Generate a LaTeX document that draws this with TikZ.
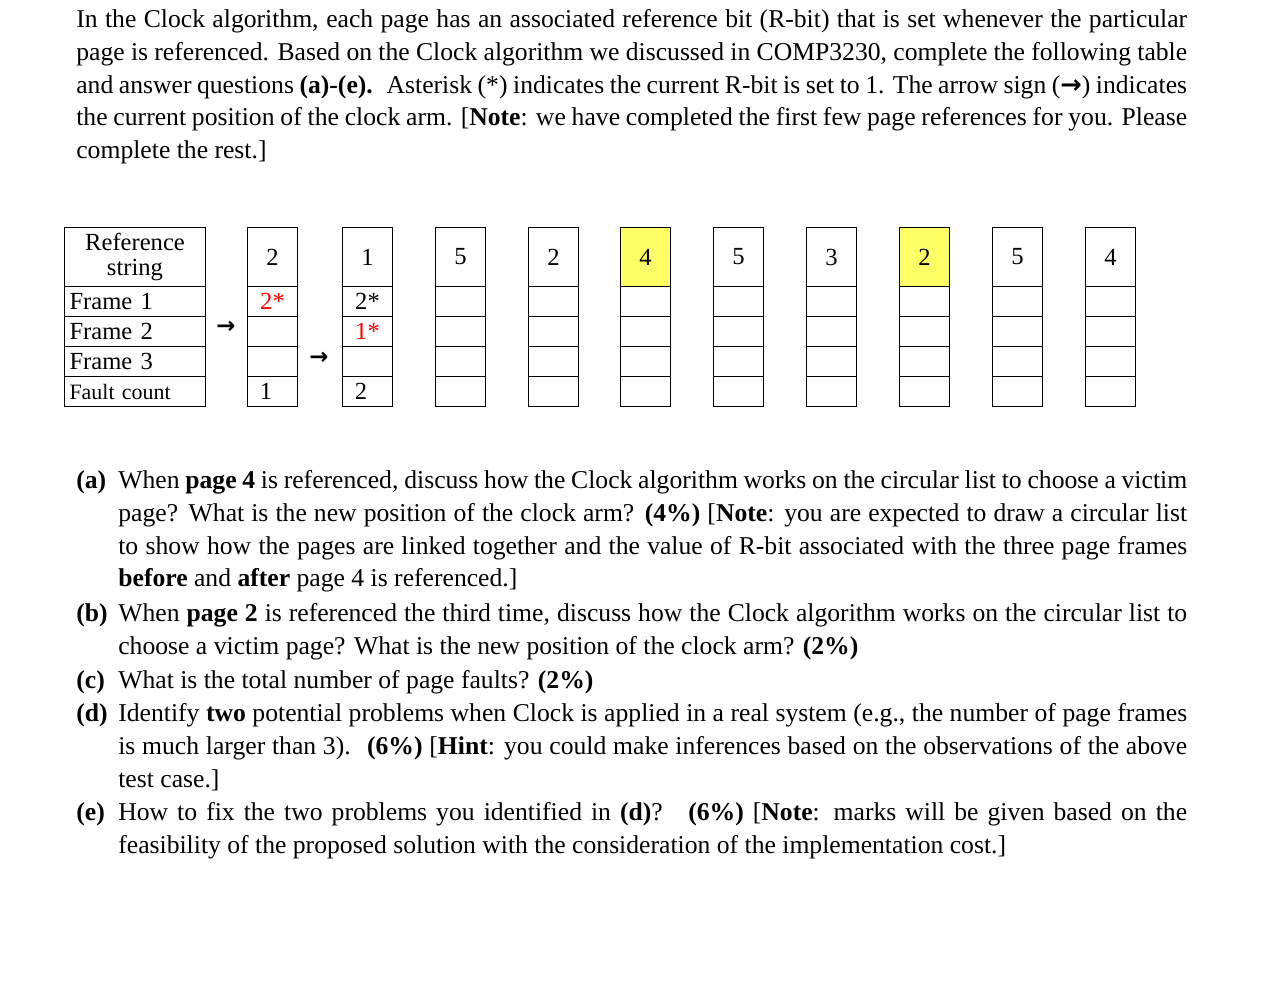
\documentclass[tikz,border=0pt]{standalone}
\usepackage{fontspec}
\setmainfont{Liberation Serif}
\newfontfamily\arr{DejaVu Sans}
\definecolor{yel}{HTML}{FFFF66}
\begin{document}
\begin{tikzpicture}[x=0.02cm,y=-0.02cm,
  body/.style={inner sep=0pt,font=\fontsize{14.6pt}{18.7pt}\selectfont,align=justify},
  tf/.style={font=\fontsize{14pt}{15pt}\selectfont},
  tcell/.style={draw,semithick,inner sep=0pt,anchor=north west,tf},
  red/.style={text=red}]
\useasboundingbox (0,0) rectangle (1276,1008);
\node[body,anchor=north west,text width=22.22cm] (intro) at (76,9) {In the Clock algorithm, each page has an associated reference bit (R-bit) that is set whenever the particular page is referenced. Based on the Clock algorithm we discussed in COMP3230, complete the following table and answer questions \textbf{(a)-(e).} \ Asterisk (*) indicates the current R-bit is set to 1. The arrow sign ({\arr\bfseries →}) indicates the current position of the clock arm. [\textbf{Note}: we have completed the first few page references for you. Please complete the rest.]};
% label column
\node[tcell,minimum width=2.82cm,minimum height=1.18cm,align=center] (h0) at (64,227) {Reference\\[-1pt]string};
\foreach \t/\y/\n in {Frame 1/286/f1,Frame 2/316/f2,Frame 3/346/f3}
  \node[tcell,minimum width=2.82cm,minimum height=0.6cm,align=left,text width=2.62cm,inner xsep=0.1cm] (\n) at (64,\y) {\t};
\node[tcell,minimum width=2.82cm,minimum height=0.6cm,text width=2.62cm,inner xsep=0.1cm,font=\fontsize{12.5pt}{13pt}\selectfont] (fc) at (64,376) {Fault count};
% columns
\foreach \i/\x/\p/\f in {1/247/2/white,2/342/1/white,3/435/5/white,4/528/2/white,5/620/4/yel,6/713/5/white,7/806/3/white,8/899/2/yel,9/992/5/white,10/1085/4/white}{
  \node[tcell,fill=\f,minimum width=1cm,minimum height=1.18cm] (c\i h) at (\x,227) {\p};
  \foreach \r/\y in {1/286,2/316,3/346,4/376}
    \node[tcell,minimum width=1cm,minimum height=0.6cm] (c\i r\r) at (\x,\y) {};
}
\node[red,tf] at (c1r1) {2*};
\node[tf] at (c2r1) {2*};
\node[red,tf] at (c2r2) {1*};
\node[tf,anchor=west,inner xsep=0.25cm] at (c1r4.west) {1};
\node[tf,anchor=west,inner xsep=0.25cm] at (c2r4.west) {2};
\node[font=\arr\bfseries\fontsize{13pt}{14pt}\selectfont] (a1) at (226,327) {→};
\node[font=\arr\bfseries\fontsize{13pt}{14pt}\selectfont] (a2) at (319,358) {→};
% questions
\foreach \l/\y/\t in {
a/470/{When \textbf{page 4} is referenced, discuss how the Clock algorithm works on the circular list to choose a victim page? What is the new position of the clock arm? \textbf{(4\%)} [\textbf{Note}: you are expected to draw a circular list to show how the pages are linked together and the value of R-bit associated with the three page frames \textbf{before} and \textbf{after} page 4 is referenced.]},
b/603/{When \textbf{page 2} is referenced the third time, discuss how the Clock algorithm works on the circular list to choose a victim page? What is the new position of the clock arm? \textbf{(2\%)}},
c/670/{What is the total number of page faults? \textbf{(2\%)}},
d/703/{Identify \textbf{two} potential problems when Clock is applied in a real system (e.g., the number of page frames is much larger than 3). \ \textbf{(6\%)} [\textbf{Hint}: you could make inferences based on the observations of the above test case.]},
e/802/{How to fix the two problems you identified in \textbf{(d)}? \ \textbf{(6\%)} [\textbf{Note}: marks will be given based on the feasibility of the proposed solution with the consideration of the implementation cost.]}}{
  \node[body,anchor=north west] (l\l) at (76,\y) {\textbf{(\l)}};
  \node[body,anchor=north west,text width=21.38cm] (q\l) at (118,\y) {\t};
}
\end{tikzpicture}
\end{document}
